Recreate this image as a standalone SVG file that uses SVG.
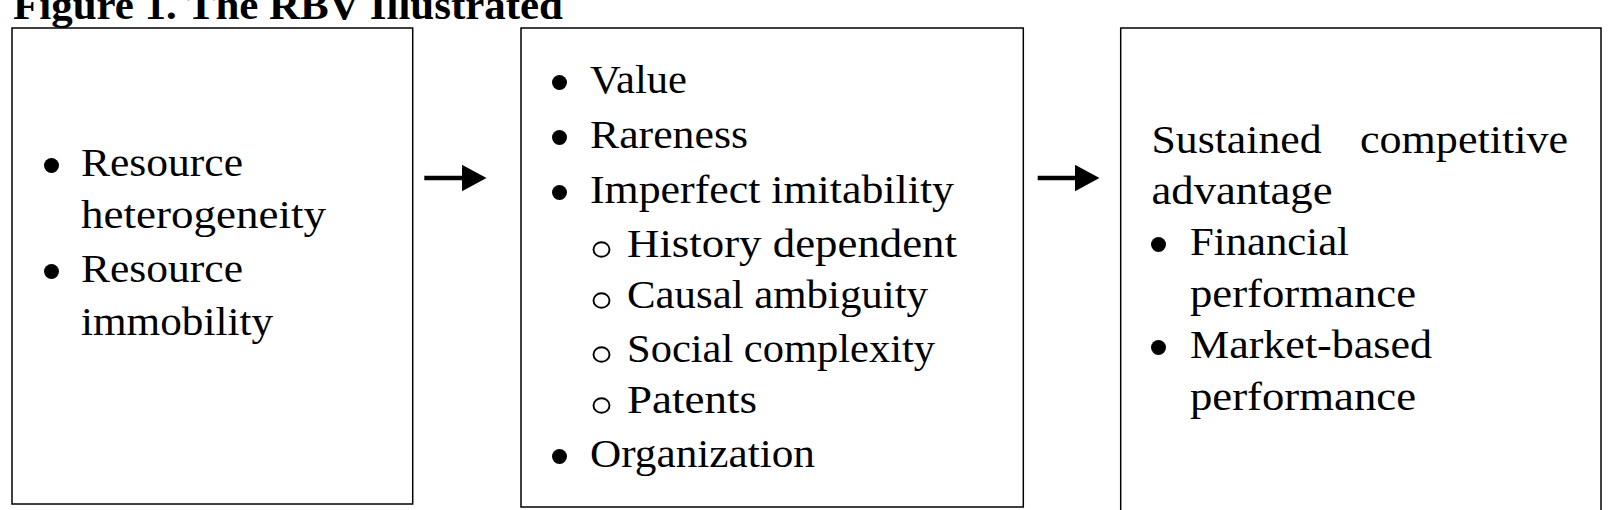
<svg xmlns="http://www.w3.org/2000/svg" width="1620" height="510" viewBox="0 0 1620 510">
  <style>
    .box { fill: #ffffff; stroke: #000000; stroke-width: 1.5; }
    .t { font-family: "Liberation Serif", "Times New Roman", serif; font-size: 41px; fill: #000000; }
    .title { font-family: "Liberation Serif", "Times New Roman", serif; font-size: 41px; font-weight: bold; fill: #000000; }
    .dot { fill: #000000; }
    .ring { fill: none; stroke: #000000; stroke-width: 1.9; }
    .conn { stroke: #000000; stroke-width: 4.5; fill: none; }
  </style>
  <defs>
    <marker id="head" markerUnits="userSpaceOnUse" markerWidth="26" markerHeight="27" refX="1" refY="13.5" orient="auto">
      <path d="M0,0 L25,13.5 L0,27 Z" fill="#000000"/>
    </marker>
  </defs>
  <rect x="0" y="0" width="1620" height="510" fill="#ffffff"/>

  <text id="title" class="title" x="13" y="18.5" textLength="550" lengthAdjust="spacingAndGlyphs">Figure 1. The RBV Illustrated</text>

  <g id="node-resources">
    <rect class="box" x="12" y="28" width="400.7" height="476"/>
    <circle class="dot" cx="51.5" cy="165.5" r="7.5"/>
    <text class="t" x="81" y="176" textLength="162" lengthAdjust="spacingAndGlyphs">Resource</text>
    <text class="t" x="81" y="228" textLength="245" lengthAdjust="spacingAndGlyphs">heterogeneity</text>
    <circle class="dot" cx="51.5" cy="271.5" r="7.5"/>
    <text class="t" x="81" y="282" textLength="162" lengthAdjust="spacingAndGlyphs">Resource</text>
    <text class="t" x="81" y="335" textLength="192" lengthAdjust="spacingAndGlyphs">immobility</text>
  </g>

  <g id="node-vrio">
    <rect class="box" x="521" y="28" width="502.3" height="479"/>
    <circle class="dot" cx="559.5" cy="82.5" r="7.5"/>
    <text class="t" x="590" y="93" textLength="97" lengthAdjust="spacingAndGlyphs">Value</text>
    <circle class="dot" cx="559.5" cy="137.5" r="7.5"/>
    <text class="t" x="590" y="148" textLength="158" lengthAdjust="spacingAndGlyphs">Rareness</text>
    <circle class="dot" cx="559.5" cy="192.5" r="7.5"/>
    <text class="t" x="590" y="203" textLength="364" lengthAdjust="spacingAndGlyphs">Imperfect imitability</text>
    <ellipse class="ring" cx="601.5" cy="249.5" rx="8" ry="7.3"/>
    <text class="t" x="627" y="257" textLength="330" lengthAdjust="spacingAndGlyphs">History dependent</text>
    <ellipse class="ring" cx="601.5" cy="300.5" rx="8" ry="7.3"/>
    <text class="t" x="627" y="308" textLength="301" lengthAdjust="spacingAndGlyphs">Causal ambiguity</text>
    <ellipse class="ring" cx="601.5" cy="354.5" rx="8" ry="7.3"/>
    <text class="t" x="627" y="362" textLength="308" lengthAdjust="spacingAndGlyphs">Social complexity</text>
    <ellipse class="ring" cx="601.5" cy="405.5" rx="8" ry="7.3"/>
    <text class="t" x="627" y="413" textLength="130" lengthAdjust="spacingAndGlyphs">Patents</text>
    <circle class="dot" cx="559.5" cy="456.5" r="7.5"/>
    <text class="t" x="590" y="467" textLength="225" lengthAdjust="spacingAndGlyphs">Organization</text>
  </g>

  <g id="node-advantage">
    <rect class="box" x="1120.7" y="28" width="480.3" height="500"/>
    <text class="t" x="1151.5" y="153" textLength="170" lengthAdjust="spacingAndGlyphs">Sustained</text>
    <text class="t" x="1360" y="153" textLength="208" lengthAdjust="spacingAndGlyphs">competitive</text>
    <text class="t" x="1151.5" y="204" textLength="181" lengthAdjust="spacingAndGlyphs">advantage</text>
    <circle class="dot" cx="1158.5" cy="244.5" r="7.5"/>
    <text class="t" x="1190" y="255" textLength="159" lengthAdjust="spacingAndGlyphs">Financial</text>
    <text class="t" x="1190" y="307" textLength="226" lengthAdjust="spacingAndGlyphs">performance</text>
    <circle class="dot" cx="1158.5" cy="347.5" r="7.5"/>
    <text class="t" x="1190" y="358" textLength="242" lengthAdjust="spacingAndGlyphs">Market-based</text>
    <text class="t" x="1190" y="410" textLength="226" lengthAdjust="spacingAndGlyphs">performance</text>
  </g>

  <g id="connectors">
    <line class="conn" x1="424.3" y1="178" x2="462.5" y2="178" marker-end="url(#head)"/>
    <line class="conn" x1="1037.7" y1="178" x2="1075.5" y2="178" marker-end="url(#head)"/>
  </g>
</svg>
